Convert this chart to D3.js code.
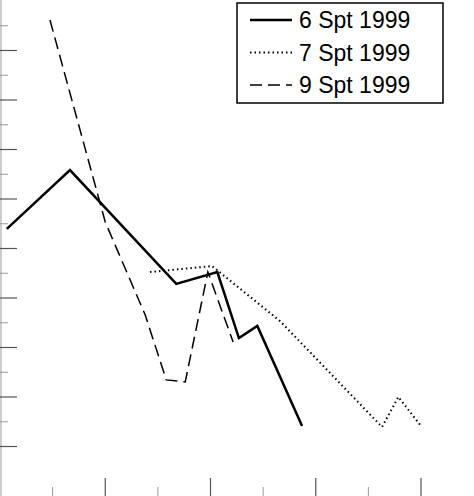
<!DOCTYPE html>
<html><head><meta charset="utf-8">
<script src="https://cdn.jsdelivr.net/npm/d3@7"></script>
<style>body{margin:0;background:#fff}</style>
</head><body>
<script>
// Three daily series, cropped figure without tick labels
var names = ["6 Spt 1999", "7 Spt 1999", "9 Spt 1999"]
var sept6 = [[0.13,10.79],[1.33,13.17],[3.35,8.57],[4.13,9.05],[4.54,6.38],[4.89,6.87],[5.74,2.83]]
var sept7 = [[2.85,9.05],[4.03,9.29],[5.32,7.07],[7.26,2.79],[7.57,4.0],[8.0,2.83]]
var sept9 = [[0.95,19.23],[2.0,11.07],[2.76,7.31],[3.16,4.69],[3.52,4.61],[3.95,9.05],[4.43,6.22]]
var dashes = ["none", "1.5,3", "12,6"]

var width = 474, height = 496
var x = d3.scaleLinear().domain([0, 8]).range([0, 421])
var y = d3.scaleLinear().domain([0, 20]).range([496, 1])

var svg = d3.select("body").append("svg")
  .attr("width", width).attr("height", height)

svg.append("line").attr("x1", 1).attr("x2", 1).attr("y1", 0).attr("y2", height)
  .attr("stroke", "#ccc").attr("stroke-width", 2)

// y ticks
d3.range(2, 20).forEach(function(v) {
  var major = v % 2 === 0
  svg.append("line").attr("x1", 0).attr("x2", major ? 17 : 8)
    .attr("y1", y(v)).attr("y2", y(v))
    .attr("stroke", major ? "#555" : "#999").attr("stroke-width", major ? 1.2 : 1)
})
// x ticks
d3.range(1, 9).forEach(function(v) {
  var major = v % 2 === 0
  svg.append("line").attr("x1", x(v)).attr("x2", x(v))
    .attr("y1", height).attr("y2", height - (major ? 18 : 9))
    .attr("stroke", major ? "#555" : "#999").attr("stroke-width", major ? 1.2 : 1)
})

var line = d3.line().x(function(d) { return x(d[0]) }).y(function(d) { return y(d[1]) })
;[sept6, sept7, sept9].forEach(function(s, i) {
  svg.append("path").datum(s).attr("d", line).attr("fill", "none")
    .attr("stroke", "#000").attr("stroke-width", i === 1 ? 2 : (i === 2 ? 1.5 : 2.5))
    .attr("stroke-dasharray", dashes[i])
})

// legend
var leg = svg.append("g")
leg.append("rect").attr("x", 237).attr("y", 3).attr("width", 206).attr("height", 100)
  .attr("fill", "#fff").attr("stroke", "#000").attr("stroke-width", 1.5)
names.forEach(function(n, i) {
  var yy = 20 + i * 32.5
  leg.append("line").attr("x1", 250).attr("x2", 292).attr("y1", yy).attr("y2", yy)
    .attr("stroke", "#000").attr("stroke-width", i === 1 ? 2 : (i === 2 ? 1.5 : 2.5))
    .attr("stroke-dasharray", dashes[i])
  leg.append("text").attr("x", 299).attr("y", yy).attr("dy", "0.36em")
    .style("font-family", "Liberation Sans, Arial, sans-serif").style("font-size", "23px")
    .text(n)
})
</script>
</body></html>
